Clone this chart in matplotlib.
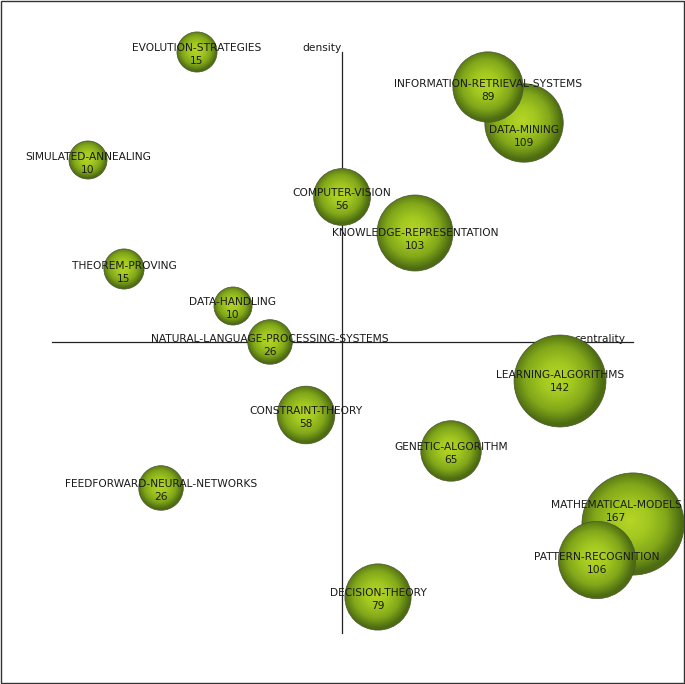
import numpy as np
import matplotlib
matplotlib.use('Agg')
import matplotlib.pyplot as plt
from matplotlib.colors import LinearSegmentedColormap
from matplotlib.patches import Circle, Rectangle

# themes of the strategic diagram (centrality on x, density on y, plot units)
themes = ['EVOLUTION-STRATEGIES', 'SIMULATED-ANNEALING', 'THEOREM-PROVING',
          'DATA-HANDLING', 'NATURAL-LANGUAGE-PROCESSING-SYSTEMS', 'COMPUTER-VISION',
          'KNOWLEDGE-REPRESENTATION', 'INFORMATION-RETRIEVAL-SYSTEMS', 'DATA-MINING',
          'LEARNING-ALGORITHMS', 'CONSTRAINT-THEORY', 'GENETIC-ALGORITHM',
          'FEEDFORWARD-NEURAL-NETWORKS', 'MATHEMATICAL-MODELS', 'PATTERN-RECOGNITION',
          'DECISION-THEORY']
docs = [15, 10, 15, 10, 26, 56, 103, 89, 109, 142, 58, 65, 26, 167, 106, 79]
centrality = [197, 88, 124, 233, 270, 342, 415, 488, 524, 560, 306, 451, 161, 633, 597, 378]
density = [52, 160, 269, 306, 342, 197, 233, 87, 123, 381, 415, 451, 488, 524, 560, 597]
label_x = [197, 88, 124, 233, 270, 342, 415, 488, 524, 560, 306, 451, 161, 616, 597, 378]
label_y = [48, 157, 266, 302, 339, 193, 233, 84, 130, 375, 411, 447, 484, 505, 557, 593]

W, H = 685, 684
fig = plt.figure(figsize=(W / 100, H / 100), dpi=100)
ax = fig.add_axes([0, 0, 1, 1])
ax.set_xlim(0, W)
ax.set_ylim(H, 0)
ax.set_aspect('equal')
ax.axis('off')

# frame
ax.add_patch(Rectangle((0.5, 0.5), W - 1.5, H - 1.5, fill=False, ec='#333333', lw=1))

# quadrant axes
ax.plot([52, 633], [342, 342], color='#222222', lw=0.9, zorder=1)
ax.plot([342, 342], [52, 633], color='#222222', lw=0.9, zorder=1)
ax.text(342, 48, 'density', ha='right', va='center', fontsize=7.7, color='#1a1a1a')
ax.text(625, 339, 'centrality', ha='right', va='center', fontsize=7.7, color='#1a1a1a')

cmap = LinearSegmentedColormap.from_list('bub', [(0, '#b6d526'), (0.35, '#a2c820'),
                                                  (0.7, '#82a71a'), (1, '#4d6c12')])
g = np.linspace(-1, 1, 200)
gx, gy = np.meshgrid(g, g)
rr = np.clip(np.sqrt((gx + 0.06) ** 2 + (gy + 0.06) ** 2), 0, 1)

# bigger bubbles first so smaller ones sit on top
order = np.argsort(docs)[::-1]
z = 2
for i in order:
    r = 17 + 0.204 * docs[i]
    x, y = centrality[i], density[i]
    circ = Circle((x, y), r, fc='none', ec='#4a5530', lw=0.5, zorder=z + 0.5)
    ax.add_patch(circ)
    im = ax.imshow(rr, cmap=cmap, vmin=0, vmax=1,
                   extent=(x - r, x + r, y + r, y - r), zorder=z, interpolation='bilinear')
    im.set_clip_path(circ)
    z += 1

ax.set_xlim(0, W)
ax.set_ylim(H, 0)

for i in range(len(themes)):
    ax.text(label_x[i], label_y[i], themes[i], ha='center', va='center',
            fontsize=7.7, color='#1a1a1a', zorder=100)
    ax.text(label_x[i], label_y[i] + 13, str(docs[i]), ha='center', va='center',
            fontsize=7.7, color='#1a1a1a', zorder=100)

fig.savefig('out.png', dpi=100)
